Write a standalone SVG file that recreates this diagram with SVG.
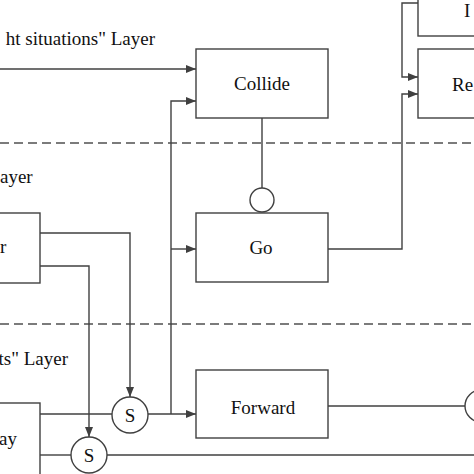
<svg xmlns="http://www.w3.org/2000/svg" width="474" height="474" viewBox="0 0 474 474">
<defs>
<marker id="arr" viewBox="0 0 10 8" refX="10" refY="4" markerWidth="10" markerHeight="8" markerUnits="userSpaceOnUse" orient="auto">
<path d="M0,0 L10,4 L0,8 Z" fill="#404040"/>
</marker>
</defs>
<style>
.box{fill:#fff;stroke:#404040;stroke-width:1.4}
.ln{fill:none;stroke:#404040;stroke-width:1.4}
.dash{fill:none;stroke:#505050;stroke-width:1.4;stroke-dasharray:9 5}
text{font-family:'Liberation Serif','Times New Roman',serif;font-size:19px;fill:#111}
.c{text-anchor:middle}
.e{text-anchor:end}
</style>
<rect width="474" height="474" fill="#fff"/>
<g id="layers">
<line class="dash" x1="0" y1="143" x2="472" y2="143"/>
<line class="dash" x1="0" y1="324" x2="472" y2="324"/>
<text class="e" x="155" y="45" font-size="19.5">ht situations" Layer</text>
<text x="0" y="183" font-size="18">ayer</text>
<text class="e" x="68" y="365">ts" Layer</text>
</g>
<g id="connectors">
<path class="ln" d="M0,69 H196" marker-end="url(#arr)"/>
<path class="ln" d="M171,414 V101 H196" marker-end="url(#arr)"/>
<path class="ln" d="M171,249 H196" marker-end="url(#arr)"/>
<path class="ln" d="M262,118 V188"/>
<path class="ln" d="M328,249 H402 V94 H418" marker-end="url(#arr)"/>
<path class="ln" d="M418,3 H402 V77 H418" marker-end="url(#arr)"/>
<path class="ln" d="M40,233 H130 V397" marker-end="url(#arr)"/>
<path class="ln" d="M40,266 H89 V437" marker-end="url(#arr)"/>
<path class="ln" d="M40,414 H112"/>
<path class="ln" d="M148,414 H196" marker-end="url(#arr)"/>
<path class="ln" d="M40,455 H71"/>
<path class="ln" d="M107,455 H474"/>
<path class="ln" d="M328,406 H465"/>
</g>
<g id="collide">
<rect class="box" x="196" y="49" width="132" height="69"/>
<text class="c" x="262" y="90">Collide</text>
</g>
<g id="inhibit">
<circle class="box" cx="262" cy="200" r="12"/>
</g>
<g id="go">
<rect class="box" x="196" y="213" width="132" height="69"/>
<text class="c" x="261" y="254">Go</text>
</g>
<g id="forward">
<rect class="box" x="196" y="370" width="132" height="68"/>
<text class="c" x="263" y="414">Forward</text>
</g>
<g id="re">
<rect class="box" x="418" y="49" width="80" height="69"/>
<text x="452" y="91">Re</text>
</g>
<g id="topbox">
<rect class="box" x="418" y="-20" width="80" height="56"/>
<text x="464" y="17">I</text>
</g>
<g id="left-mid">
<rect class="box" x="-40" y="213" width="80" height="70"/>
<text x="0" y="253">r</text>
</g>
<g id="left-bottom">
<rect class="box" x="-40" y="403" width="80" height="90"/>
<text class="e" x="17" y="445">ay</text>
</g>
<g id="s1">
<circle class="box" cx="130" cy="415" r="18"/>
<text class="c" x="130" y="422">S</text>
</g>
<g id="s2">
<circle class="box" cx="89" cy="455" r="18"/>
<text class="c" x="89" y="462">S</text>
</g>
<g id="right-circle">
<circle class="box" cx="481" cy="406" r="16"/>
</g>
</svg>
